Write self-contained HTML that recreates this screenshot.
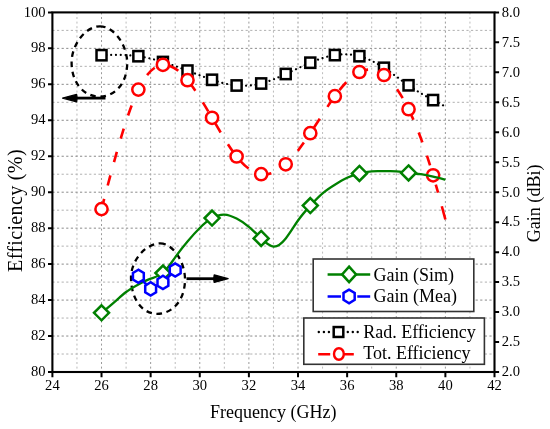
<!DOCTYPE html><html><head><meta charset="utf-8"><style>
html,body{margin:0;padding:0;background:#fff;width:550px;height:429px;overflow:hidden}
svg{display:block}text{font-family:"Liberation Serif","Times New Roman",serif;fill:#000}
</style></head><body>
<svg width="550" height="429" viewBox="0 0 550 429">
<rect width="550" height="429" fill="#fff"/>
<path d="M76.96,12.40V372.00M126.08,12.40V372.00M175.21,12.40V372.00M224.33,12.40V372.00M273.45,12.40V372.00M322.57,12.40V372.00M371.69,12.40V372.00M420.82,12.40V372.00M469.94,12.40V372.00" stroke="#bcbcbc" stroke-width="1" stroke-dasharray="2 2.6" fill="none"/>
<path d="M101.52,12.40V372.00M150.64,12.40V372.00M199.77,12.40V372.00M248.89,12.40V372.00M298.01,12.40V372.00M347.13,12.40V372.00M396.26,12.40V372.00M445.38,12.40V372.00" stroke="#9a9a9a" stroke-width="1" stroke-dasharray="2 2.6" fill="none"/>
<path d="M52.40,354.02H494.50M52.40,318.06H494.50M52.40,282.10H494.50M52.40,246.14H494.50M52.40,210.18H494.50M52.40,174.22H494.50M52.40,138.26H494.50M52.40,102.30H494.50M52.40,66.34H494.50M52.40,30.38H494.50" stroke="#b0b0b0" stroke-width="1" stroke-dasharray="2.2 2.4" fill="none"/>
<path d="M52.40,336.04H494.50M52.40,300.08H494.50M52.40,264.12H494.50M52.40,228.16H494.50M52.40,192.20H494.50M52.40,156.24H494.50M52.40,120.28H494.50M52.40,84.32H494.50M52.40,48.36H494.50" stroke="#8a8a8a" stroke-width="1" stroke-dasharray="2.2 2.4" fill="none"/>
<g fill="none" stroke="#000" stroke-width="2.3" stroke-dasharray="5.6 4.6">
<path d="M100,26.3 C113.60,26.3 127.2,44.65 127.2,63 C127.2,82.49 115.57,96.6 99.5,96.6 C83.32,96.6 71.6,82.28 71.6,62.5 C71.6,44.40 85.80,26.3 100,26.3 Z"/>
<path d="M160.3,243.4 C172.65,243.4 185.0,261.45 185.0,279.5 C185.0,299.39 173.24,313.8 157,313.8 C141.92,313.8 131,298.55 131,277.5 C131,260.45 145.65,243.4 160.3,243.4 Z"/>
</g>
<path d="M105.5,98.1 H75" stroke="#000" stroke-width="2.8" fill="none"/>
<path d="M62.6,98.1 L76.6,94.4 Q77.6,98.1 76.6,101.8 Z" fill="#000" stroke="#000" stroke-width="1.3" stroke-linejoin="round"/>
<path d="M186.5,278.7 H216" stroke="#000" stroke-width="2.8" fill="none"/>
<path d="M228.1,278.7 L214.2,275 Q213.2,278.7 214.2,282.4 Z" fill="#000" stroke="#000" stroke-width="1.3" stroke-linejoin="round"/>
<path d="M101.52,55.20 C113.80,54.83 126.08,54.45 138.36,56.20 C146.55,57.37 154.74,59.47 162.93,62.00 C171.11,64.53 179.30,67.47 187.49,70.60 C195.67,73.73 203.86,77.05 212.05,79.80 C220.23,82.55 228.42,84.73 236.61,85.50 C244.80,86.27 252.98,85.61 261.17,83.50 C269.36,81.39 277.54,77.81 285.73,74.00 C293.92,70.19 302.10,66.15 310.29,62.70 C318.48,59.25 326.67,56.41 334.85,55.10 C343.04,53.79 351.23,54.03 359.41,56.20 C367.60,58.37 375.79,62.48 383.98,67.80 C392.16,73.12 400.35,79.65 408.54,85.30 C416.72,90.95 424.91,95.71 433.10,100.10 C437.19,102.30 441.28,104.40 445.38,106.50" fill="none" stroke="#000" stroke-width="2.2" stroke-linecap="round" stroke-dasharray="0.01 4.8"/>
<g fill="#fff" stroke="#000" stroke-width="2.5"><rect x="96.52" y="50.05" width="10.0" height="10.3"/><rect x="133.36" y="51.05" width="10.0" height="10.3"/><rect x="157.93" y="56.85" width="10.0" height="10.3"/><rect x="182.49" y="65.45" width="10.0" height="10.3"/><rect x="207.05" y="74.65" width="10.0" height="10.3"/><rect x="231.61" y="80.35" width="10.0" height="10.3"/><rect x="256.17" y="78.35" width="10.0" height="10.3"/><rect x="280.73" y="68.85" width="10.0" height="10.3"/><rect x="305.29" y="57.55" width="10.0" height="10.3"/><rect x="329.85" y="49.95" width="10.0" height="10.3"/><rect x="354.41" y="51.05" width="10.0" height="10.3"/><rect x="378.98" y="62.65" width="10.0" height="10.3"/><rect x="403.54" y="80.15" width="10.0" height="10.3"/><rect x="428.10" y="94.95" width="10.0" height="10.3"/></g>
<path d="M101.52,209.10 C113.80,162.04 126.08,114.98 138.36,89.60" fill="none" stroke="#ff0000" stroke-width="2.6" stroke-dasharray="10.5 13.8" stroke-dashoffset="0.00"/>
<path d="M138.36,89.60 C146.55,72.68 154.74,65.39 162.93,64.80" fill="none" stroke="#ff0000" stroke-width="2.6" stroke-dasharray="10.5 13.8" stroke-dashoffset="7.40"/>
<path d="M162.93,64.80 C171.11,64.21 179.30,70.31 187.49,80.20" fill="none" stroke="#ff0000" stroke-width="2.6" stroke-dasharray="10.5 13.8" stroke-dashoffset="17.80"/>
<path d="M187.49,80.20 C195.67,90.09 203.86,103.77 212.05,117.80" fill="none" stroke="#ff0000" stroke-width="2.6" stroke-dasharray="10.5 13.8" stroke-dashoffset="21.50"/>
<path d="M212.05,117.80 C220.23,131.83 228.42,146.22 236.61,156.50" fill="none" stroke="#ff0000" stroke-width="2.6" stroke-dasharray="10.5 13.8" stroke-dashoffset="17.86"/>
<path d="M236.61,156.50 C244.80,166.78 252.98,172.95 261.17,174.20" fill="none" stroke="#ff0000" stroke-width="2.6" stroke-dasharray="10.5 13.8" stroke-dashoffset="17.80"/>
<path d="M261.17,174.20 C269.36,175.45 277.54,171.77 285.73,164.30" fill="none" stroke="#ff0000" stroke-width="2.6" stroke-dasharray="10.5 13.8" stroke-dashoffset="0.16"/>
<path d="M285.73,164.30 C293.92,156.83 302.10,145.56 310.29,133.20" fill="none" stroke="#ff0000" stroke-width="2.6" stroke-dasharray="10.5 13.8" stroke-dashoffset="6.20"/>
<path d="M310.29,133.20 C318.48,120.84 326.67,107.40 334.85,96.20" fill="none" stroke="#ff0000" stroke-width="2.6" stroke-dasharray="10.5 13.8" stroke-dashoffset="17.40"/>
<path d="M334.85,96.20 C343.04,85.00 351.23,76.04 359.41,72.00" fill="none" stroke="#ff0000" stroke-width="2.6" stroke-dasharray="10.5 13.8" stroke-dashoffset="16.80"/>
<path d="M359.41,72.00 C367.60,67.96 375.79,68.85 383.98,75.00" fill="none" stroke="#ff0000" stroke-width="2.6" stroke-dasharray="10.5 13.8" stroke-dashoffset="1.50"/>
<path d="M383.98,75.00 C392.16,81.15 400.35,92.55 408.54,109.20" fill="none" stroke="#ff0000" stroke-width="2.6" stroke-dasharray="10.5 13.8" stroke-dashoffset="4.80"/>
<path d="M408.54,109.20 C416.72,125.85 424.91,147.73 433.10,175.30" fill="none" stroke="#ff0000" stroke-width="2.6" stroke-dasharray="10.5 13.8" stroke-dashoffset="22.96"/>
<path d="M433.10,175.30 C437.19,189.09 441.28,204.29 445.38,219.50" fill="none" stroke="#ff0000" stroke-width="2.6" stroke-dasharray="0 9.8 8.4 14 40"/>
<g fill="#fff" stroke="#ff0000" stroke-width="2.5"><circle cx="101.52" cy="209.10" r="6.1"/><circle cx="138.36" cy="89.60" r="6.1"/><circle cx="162.93" cy="64.80" r="6.1"/><circle cx="187.49" cy="80.20" r="6.1"/><circle cx="212.05" cy="117.80" r="6.1"/><circle cx="236.61" cy="156.50" r="6.1"/><circle cx="261.17" cy="174.20" r="6.1"/><circle cx="285.73" cy="164.30" r="6.1"/><circle cx="310.29" cy="133.20" r="6.1"/><circle cx="334.85" cy="96.20" r="6.1"/><circle cx="359.41" cy="72.00" r="6.1"/><circle cx="383.98" cy="75.00" r="6.1"/><circle cx="408.54" cy="109.20" r="6.1"/><circle cx="433.10" cy="175.30" r="6.1"/></g>
<path d="M101.52,312.80 C105.62,309.50 109.71,306.20 113.80,302.60 C117.90,299.00 121.99,295.09 126.08,292.00 C130.18,288.91 134.27,286.62 138.36,284.40 C142.46,282.18 146.55,280.01 150.64,278.60 C154.74,277.19 158.83,276.53 162.93,273.00 C167.02,269.47 171.11,263.07 175.21,257.30 C179.30,251.53 183.39,246.37 187.49,241.50 C191.58,236.63 195.67,232.04 199.77,228.00 C203.86,223.96 207.95,220.49 212.05,218.10 C216.14,215.71 220.23,214.42 224.33,214.60 C228.42,214.78 232.51,216.45 236.61,218.60 C240.70,220.75 244.80,223.39 248.89,226.80 C252.98,230.21 257.08,234.38 261.17,238.40 C265.26,242.42 269.36,246.29 273.45,246.60 C277.54,246.91 281.64,243.65 285.73,238.50 C289.82,233.35 293.92,226.32 298.01,220.50 C302.10,214.68 306.20,210.08 310.29,205.60 C314.39,201.12 318.48,196.77 322.57,193.30 C326.67,189.83 330.76,187.23 334.85,184.70 C338.95,182.17 343.04,179.73 347.13,177.80 C351.23,175.87 355.32,174.47 359.41,173.40 C363.51,172.33 367.60,171.58 371.69,171.30 C375.79,171.02 379.88,171.20 383.98,171.20 C388.07,171.20 392.16,171.00 396.26,171.30 C400.35,171.60 404.44,172.39 408.54,172.90 C412.63,173.41 416.72,173.65 420.82,174.20 C424.91,174.75 429.00,175.63 433.10,176.60 C437.19,177.57 441.28,178.64 445.38,179.70" fill="none" stroke="#008000" stroke-width="2.3"/>
<g fill="#fff" stroke="#008000" stroke-width="2.5"><path d="M101.52,305.30 L109.02,312.80 L101.52,320.30 L94.02,312.80 Z"/><path d="M162.93,265.50 L170.43,273.00 L162.93,280.50 L155.43,273.00 Z"/><path d="M212.05,210.60 L219.55,218.10 L212.05,225.60 L204.55,218.10 Z"/><path d="M261.17,230.90 L268.67,238.40 L261.17,245.90 L253.67,238.40 Z"/><path d="M310.29,198.10 L317.79,205.60 L310.29,213.10 L302.79,205.60 Z"/><path d="M359.41,165.90 L366.91,173.40 L359.41,180.90 L351.91,173.40 Z"/><path d="M408.54,165.40 L416.04,172.90 L408.54,180.40 L401.04,172.90 Z"/></g>
<path d="M138.36,276.30 L150.64,288.90 L162.93,282.40 L175.21,270.00" fill="none" stroke="#0000ff" stroke-width="2.5"/>
<g fill="#fff" stroke="#0000ff" stroke-width="2.5"><path d="M138.36,269.70 L132.93,273.00 L132.93,279.60 L138.36,282.90 L143.79,279.60 L143.79,273.00 Z"/><path d="M150.64,282.30 L145.21,285.60 L145.21,292.20 L150.64,295.50 L156.07,292.20 L156.07,285.60 Z"/><path d="M162.93,275.80 L157.50,279.10 L157.50,285.70 L162.93,289.00 L168.35,285.70 L168.35,279.10 Z"/><path d="M175.21,263.40 L169.78,266.70 L169.78,273.30 L175.21,276.60 L180.64,273.30 L180.64,266.70 Z"/></g>
<rect x="52.4" y="12.4" width="442.10" height="359.60" fill="none" stroke="#000" stroke-width="2.1"/>
<path d="M48.00,372.00H52.4M48.00,336.04H52.4M48.00,300.08H52.4M48.00,264.12H52.4M48.00,228.16H52.4M48.00,192.20H52.4M48.00,156.24H52.4M48.00,120.28H52.4M48.00,84.32H52.4M48.00,48.36H52.4M48.00,12.40H52.4M494.50,372.00H499.10M494.50,342.03H499.10M494.50,312.07H499.10M494.50,282.10H499.10M494.50,252.13H499.10M494.50,222.17H499.10M494.50,192.20H499.10M494.50,162.23H499.10M494.50,132.27H499.10M494.50,102.30H499.10M494.50,72.33H499.10M494.50,42.37H499.10M494.50,12.40H499.10M52.40,372.00V377.20M101.52,372.00V377.20M150.64,372.00V377.20M199.77,372.00V377.20M248.89,372.00V377.20M298.01,372.00V377.20M347.13,372.00V377.20M396.26,372.00V377.20M445.38,372.00V377.20M494.50,372.00V377.20" stroke="#000" stroke-width="2" fill="none"/>
<g font-size="14.6" text-anchor="end">
<text x="45.6" y="376.10">80</text>
<text x="45.6" y="340.14">82</text>
<text x="45.6" y="304.18">84</text>
<text x="45.6" y="268.22">86</text>
<text x="45.6" y="232.26">88</text>
<text x="45.6" y="196.30">90</text>
<text x="45.6" y="160.34">92</text>
<text x="45.6" y="124.38">94</text>
<text x="45.6" y="88.42">96</text>
<text x="45.6" y="52.46">98</text>
<text x="45.6" y="16.50">100</text>
</g><g font-size="14.6">
<text x="501.7" y="376.30">2.0</text>
<text x="501.7" y="346.33">2.5</text>
<text x="501.7" y="316.37">3.0</text>
<text x="501.7" y="286.40">3.5</text>
<text x="501.7" y="256.43">4.0</text>
<text x="501.7" y="226.47">4.5</text>
<text x="501.7" y="196.50">5.0</text>
<text x="501.7" y="166.53">5.5</text>
<text x="501.7" y="136.57">6.0</text>
<text x="501.7" y="106.60">6.5</text>
<text x="501.7" y="76.63">7.0</text>
<text x="501.7" y="46.67">7.5</text>
<text x="501.7" y="16.70">8.0</text>
</g><g font-size="14.6" text-anchor="middle">
<text x="52.40" y="390.4">24</text>
<text x="101.52" y="390.4">26</text>
<text x="150.64" y="390.4">28</text>
<text x="199.77" y="390.4">30</text>
<text x="248.89" y="390.4">32</text>
<text x="298.01" y="390.4">34</text>
<text x="347.13" y="390.4">36</text>
<text x="396.26" y="390.4">38</text>
<text x="445.38" y="390.4">40</text>
<text x="494.50" y="390.4">42</text>
</g>
<text x="273.3" y="417.5" font-size="18" text-anchor="middle">Frequency (GHz)</text>
<text transform="translate(22.3,210.5) rotate(-90)" font-size="20" letter-spacing="0.35" text-anchor="middle">Efficiency (%)</text>
<text transform="translate(539.5,203.4) rotate(-90)" font-size="18.1" text-anchor="middle">Gain (dBi)</text>
<rect x="313.2" y="259" width="160.6" height="52.5" fill="#fff" stroke="#333" stroke-width="1.6"/>
<rect x="303.8" y="318" width="180.6" height="46.3" fill="#fff" stroke="#333" stroke-width="1.6"/>
<path d="M327.6,274.4H370.2" stroke="#008000" stroke-width="2.5"/>
<g fill="#fff" stroke="#008000" stroke-width="2.5"><path d="M349.10,266.60 L356.10,274.40 L349.10,282.20 L342.10,274.40 Z"/></g>
<path d="M327.6,296.4H341M357.3,296.4H370.2" stroke="#0000ff" stroke-width="2.5"/>
<g fill="#fff" stroke="#0000ff" stroke-width="2.5"><path d="M349.10,289.60 L343.51,293.00 L343.51,299.80 L349.10,303.20 L354.69,299.80 L354.69,293.00 Z"/></g>
<text x="373.6" y="280.7" font-size="18">Gain (Sim)</text>
<text x="373.6" y="301.9" font-size="18">Gain (Mea)</text>
<g fill="#000"><circle cx="318.8" cy="332" r="1.2"/><circle cx="323.9" cy="332" r="1.2"/><circle cx="328.9" cy="332" r="1.2"/><circle cx="347.8" cy="332" r="1.2"/><circle cx="352.8" cy="332" r="1.2"/><circle cx="357.7" cy="332" r="1.2"/></g>
<g fill="#fff" stroke="#000" stroke-width="2.5"><rect x="333.70" y="327.05" width="9.6" height="9.9"/></g>
<path d="M318.2,354.2H330.2M344,354.2H353.8" stroke="#ff0000" stroke-width="2.4"/>
<ellipse cx="338.9" cy="354" rx="4.9" ry="5.8" fill="#fff" stroke="#ff0000" stroke-width="2.4"/>
<text x="363.2" y="337.9" font-size="18">Rad. Efficiency</text>
<text x="363.2" y="359.0" font-size="18">Tot. Efficiency</text>
</svg></body></html>
